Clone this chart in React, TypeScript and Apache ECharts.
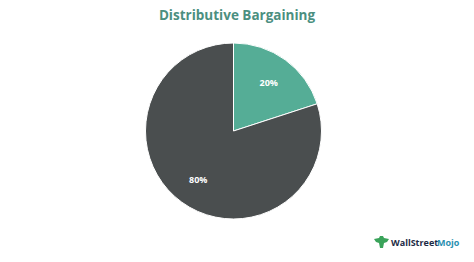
import React, { useEffect, useRef } from "react";
import * as echarts from "echarts";

const title = "Distributive Bargaining";
const categories = ["Share A", "Share B"];
const values = [20, 80];
const colors = ["#55ad96", "#4a4e4f"];

export default function App() {
  const ref = useRef<HTMLDivElement>(null);
  useEffect(() => {
    if (!ref.current) return;
    const chart = echarts.init(ref.current, null, { renderer: "svg" });
    const data = categories.map((c, i) => ({
      name: c,
      value: values[i],
      itemStyle: { color: colors[i] },
    }));
    chart.setOption({
      animation: false,
      backgroundColor: "#ffffff",
      title: {
        text: title,
        left: "center",
        top: 3,
        textStyle: {
          fontFamily: "Open Sans",
          fontWeight: "bold",
          fontSize: 13.5,
          color: "#4b8f80",
        },
      },
      series: [
        {
          type: "pie",
          center: [233.5, 131],
          radius: [0, 88],
          startAngle: 90,
          clockwise: true,
          silent: true,
          data,
          itemStyle: { borderColor: "#ffffff", borderWidth: 1 },
          label: { show: false },
          labelLine: { show: false },
        },
        {
          type: "pie",
          center: [233.5, 131],
          radius: [0, 114],
          startAngle: 90,
          clockwise: true,
          silent: true,
          data: categories.map((c, i) => ({
            name: c,
            value: values[i],
            itemStyle: { color: "transparent" },
          })),
          label: {
            show: true,
            position: "inside",
            formatter: (p: any) => p.value + "%",
            color: "#ffffff",
            fontFamily: "Open Sans",
            fontWeight: "bold",
            fontSize: 9,
          },
          labelLine: { show: false },
        },
      ],
      graphic: [
        {
          type: "polygon",
          shape: {
            points: [
              [374, 239], [379, 238], [380, 236], [383, 236], [384, 238], [389, 239],
              [387, 242], [384, 243], [383, 248], [380, 248], [379, 243], [376, 242],
            ],
          },
          style: { fill: "#3aa35a" },
        },
        {
          type: "text",
          x: 391,
          y: 242,
          style: {
            text: "WallStreet",
            fill: "#1d2b45",
            font: "bold 9px 'Open Sans'",
            verticalAlign: "middle",
          },
        },
        {
          type: "text",
          x: 437,
          y: 242,
          style: {
            text: "Mojo",
            fill: "#2a8fb0",
            font: "bold 9px 'Open Sans'",
            verticalAlign: "middle",
          },
        },
      ],
    });
    return () => chart.dispose();
  }, []);
  return <div ref={ref} style={{ width: 474, height: 262, position: "absolute", left: 0, top: 0 }} />;
}
